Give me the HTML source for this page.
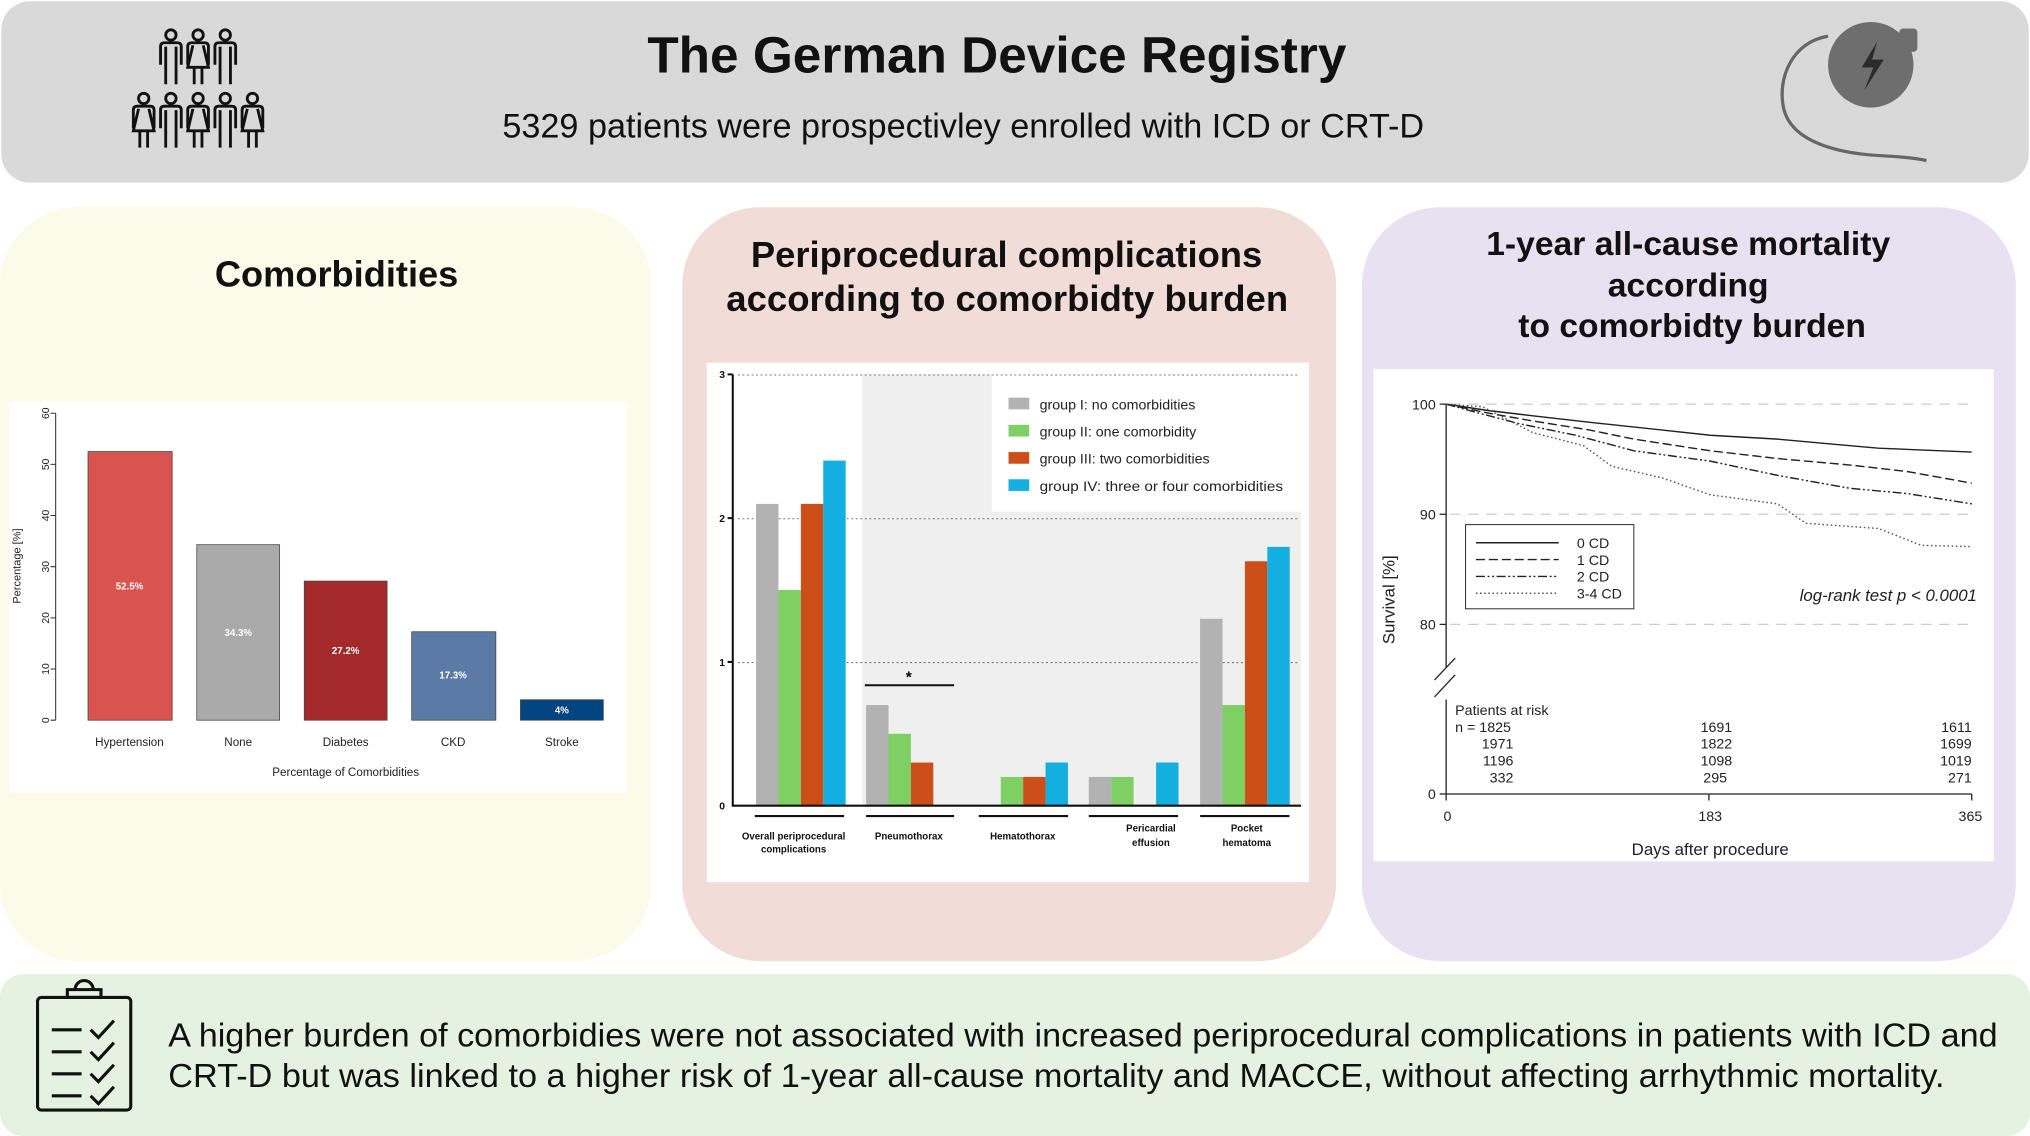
<!DOCTYPE html>
<html><head><meta charset="utf-8"><style>
html,body{margin:0;padding:0;background:#fff;}
svg{display:block;font-family:"Liberation Sans",Arial,sans-serif;}
</style></head><body>
<svg width="2030" height="1136" viewBox="0 0 1568 877" preserveAspectRatio="none" xmlns="http://www.w3.org/2000/svg">
<rect width="1568" height="877" fill="#fff"/>
<!-- header -->
<rect x="1" y="1" width="1566" height="140" rx="22" fill="#d9d9d9"/>
<text x="500" y="56" font-size="39.5" font-weight="bold" fill="#111" textLength="540" lengthAdjust="spacingAndGlyphs">The German Device Registry</text>
<text x="388" y="106" font-size="26.5" fill="#111" textLength="712" lengthAdjust="spacingAndGlyphs">5329 patients were prospectivley enrolled with ICD or CRT-D</text>
<!-- people icon -->
<g fill="none" stroke="#111" stroke-width="2.2">
<g transform="translate(132,40)"><circle cx="0" cy="-13" r="4"/><path d="M-8,10 V-4 Q-8,-7 -5,-7 H5 Q8,-7 8,-4 V10 M-4,-4 V25 M4,-4 V25"/></g>
<g transform="translate(153,40)"><circle cx="0" cy="-13" r="4"/><path d="M-8,10 V-4 Q-8,-7 -5,-7 H5 Q8,-7 8,-4 V10 M-4,-5 L-8,12 H8 L4,-5 M-3,12 V25 M3,12 V25"/></g>
<g transform="translate(174,40)"><circle cx="0" cy="-13" r="4"/><path d="M-8,10 V-4 Q-8,-7 -5,-7 H5 Q8,-7 8,-4 V10 M-4,-4 V25 M4,-4 V25"/></g>
<g transform="translate(111,89)"><circle cx="0" cy="-13" r="4"/><path d="M-8,10 V-4 Q-8,-7 -5,-7 H5 Q8,-7 8,-4 V10 M-4,-5 L-8,12 H8 L4,-5 M-3,12 V25 M3,12 V25"/></g>
<g transform="translate(132,89)"><circle cx="0" cy="-13" r="4"/><path d="M-8,10 V-4 Q-8,-7 -5,-7 H5 Q8,-7 8,-4 V10 M-4,-4 V25 M4,-4 V25"/></g>
<g transform="translate(153,89)"><circle cx="0" cy="-13" r="4"/><path d="M-8,10 V-4 Q-8,-7 -5,-7 H5 Q8,-7 8,-4 V10 M-4,-5 L-8,12 H8 L4,-5 M-3,12 V25 M3,12 V25"/></g>
<g transform="translate(174,89)"><circle cx="0" cy="-13" r="4"/><path d="M-8,10 V-4 Q-8,-7 -5,-7 H5 Q8,-7 8,-4 V10 M-4,-4 V25 M4,-4 V25"/></g>
<g transform="translate(195,89)"><circle cx="0" cy="-13" r="4"/><path d="M-8,10 V-4 Q-8,-7 -5,-7 H5 Q8,-7 8,-4 V10 M-4,-5 L-8,12 H8 L4,-5 M-3,12 V25 M3,12 V25"/></g>
</g>
<!-- device icon -->
<path d="M1412,28 C1385,32 1372,60 1378,85 C1385,110 1420,118 1450,120 C1470,121 1480,122 1488,124" fill="none" stroke="#666" stroke-width="2.5"/>
<circle cx="1445" cy="50" r="33" fill="#6e6e6e"/>
<rect x="1467" y="22" width="14" height="18" rx="3" fill="#6e6e6e"/>
<path d="M1450,32 L1438,52 L1447,52 L1440,70 L1455,46 L1446,46 Z" fill="#2b2b2b"/>
<!-- panels -->
<rect x="0" y="160" width="503" height="582" rx="60" fill="#fafbe9"/>
<rect x="527" y="160" width="505" height="582" rx="60" fill="#f2dcd7"/>
<rect x="1052" y="160" width="505" height="582" rx="60" fill="#e8e1f2"/>
<rect x="0" y="752" width="1568" height="125" rx="18" fill="#e5f2e1"/>
<text x="166" y="221" font-size="28" font-weight="bold" fill="#111" textLength="188" lengthAdjust="spacingAndGlyphs">Comorbidities</text>
<text x="580" y="206" font-size="28" font-weight="bold" fill="#111" textLength="395" lengthAdjust="spacingAndGlyphs">Periprocedural complications</text>
<text x="561" y="240" font-size="28" font-weight="bold" fill="#111" textLength="434" lengthAdjust="spacingAndGlyphs">according to comorbidty burden</text>
<text x="1304" y="197" font-size="26" font-weight="bold" text-anchor="middle" fill="#111">1-year all-cause mortality</text>
<text x="1304" y="229" font-size="26" font-weight="bold" text-anchor="middle" fill="#111">according</text>
<text x="1307" y="260" font-size="26" font-weight="bold" text-anchor="middle" fill="#111">to comorbidty burden</text>

<!-- left chart -->
<rect x="7" y="310" width="477" height="302" fill="#fff"/>
<g stroke="#333" stroke-width="0.8" fill="none">
<path d="M43,319 V556 M39,319 H43 M39,358.5 H43 M39,398 H43 M39,437.5 H43 M39,477 H43 M39,516.5 H43 M39,556 H43"/>
</g>
<g font-size="8" fill="#222" text-anchor="middle">
<text transform="translate(38,556) rotate(-90)">0</text>
<text transform="translate(38,516.5) rotate(-90)">10</text>
<text transform="translate(38,477) rotate(-90)">20</text>
<text transform="translate(38,437.5) rotate(-90)">30</text>
<text transform="translate(38,398) rotate(-90)">40</text>
<text transform="translate(38,358.5) rotate(-90)">50</text>
<text transform="translate(38,319) rotate(-90)">60</text>
<text transform="translate(16,437) rotate(-90)" font-size="8.5">Percentage [%]</text>
</g>
<g stroke="#444" stroke-width="0.6">
<rect x="68" y="348.6" width="65" height="207.4" fill="#d9534f"/>
<rect x="152" y="420.5" width="64" height="135.5" fill="#aaaaaa"/>
<rect x="235" y="448.6" width="64" height="107.4" fill="#a4292a"/>
<rect x="318" y="487.7" width="65" height="68.3" fill="#5b7aa5"/>
<rect x="402" y="540.2" width="64" height="15.8" fill="#034582"/>
</g>
<g font-size="7.5" fill="#fff" font-weight="bold" text-anchor="middle">
<text x="100" y="455">52.5%</text><text x="184" y="491">34.3%</text><text x="267" y="505">27.2%</text><text x="350" y="524">17.3%</text><text x="434" y="551">4%</text>
</g>
<g font-size="9" fill="#222" text-anchor="middle">
<text x="100" y="576">Hypertension</text><text x="184" y="576">None</text><text x="267" y="576">Diabetes</text><text x="350" y="576">CKD</text><text x="434" y="576">Stroke</text>
<text x="267" y="599">Percentage of Comorbidities</text>
</g>

<!-- middle chart -->
<rect x="546" y="280" width="465" height="401" fill="#fff"/>
<rect x="666" y="289" width="339" height="333" fill="#efefef"/>
<rect x="766" y="289" width="239" height="106" fill="#fff"/>
<g stroke="#777" stroke-width="0.8" stroke-dasharray="1.5,2">
<path d="M570,289.5 H1004 M570,400.5 H1004 M570,511.5 H1004"/>
</g>
<g font-size="8" font-weight="bold" fill="#111" text-anchor="end">
<text x="560" y="292">3</text><text x="560" y="403">2</text><text x="560" y="514">1</text><text x="560" y="625">0</text>
</g>
<g>
<rect x="584" y="389" width="17.3" height="233" fill="#b2b2b2"/>
<rect x="601.3" y="455.5" width="17.3" height="166.5" fill="#7ed064"/>
<rect x="618.6" y="389" width="17.3" height="233" fill="#cc4f19"/>
<rect x="635.9" y="355.6" width="17.3" height="266.4" fill="#12afe0"/>
<rect x="669" y="544.3" width="17.3" height="77.7" fill="#b2b2b2"/>
<rect x="686.3" y="566.5" width="17.3" height="55.5" fill="#7ed064"/>
<rect x="703.6" y="588.7" width="17.3" height="33.3" fill="#cc4f19"/>
<rect x="773" y="599.8" width="17.3" height="22.2" fill="#7ed064"/>
<rect x="790.3" y="599.8" width="17.3" height="22.2" fill="#cc4f19"/>
<rect x="807.6" y="588.7" width="17.3" height="33.3" fill="#12afe0"/>
<rect x="841" y="599.8" width="17.3" height="22.2" fill="#b2b2b2"/>
<rect x="858.3" y="599.8" width="17.3" height="22.2" fill="#7ed064"/>
<rect x="893" y="588.7" width="17.3" height="33.3" fill="#12afe0"/>
<rect x="927" y="477.7" width="17.3" height="144.3" fill="#b2b2b2"/>
<rect x="944.3" y="544.3" width="17.3" height="77.7" fill="#7ed064"/>
<rect x="961.6" y="433.3" width="17.3" height="188.7" fill="#cc4f19"/>
<rect x="978.9" y="422.2" width="17.3" height="199.8" fill="#12afe0"/>
</g>
<g stroke="#111" stroke-width="1.6" fill="none">
<path d="M566,289 V622 H1005 M562,289 H566 M562,400 H566 M562,511 H566"/>
<path d="M583,630 H652 M669,630 H737 M756,630 H825 M841,630 H910 M927,630 H996"/>
<path d="M668,529 H737"/>
</g>
<text x="702" y="527" font-size="12" font-weight="bold" text-anchor="middle">*</text>
<g font-size="7.5" font-weight="bold" fill="#111" text-anchor="middle">
<text x="613" y="648">Overall periprocedural</text><text x="613" y="658">complications</text>
<text x="702" y="648">Pneumothorax</text>
<text x="790" y="648">Hematothorax</text>
<text x="889" y="642">Pericardial</text><text x="889" y="653">effusion</text>
<text x="963" y="642">Pocket</text><text x="963" y="653">hematoma</text>
</g>
<g font-size="11" fill="#222">
<rect x="779" y="307" width="16" height="9" fill="#b2b2b2"/><text x="803" y="316">group I: no comorbidities</text>
<rect x="779" y="328" width="16" height="9" fill="#7ed064"/><text x="803" y="337">group II: one comorbidity</text>
<rect x="779" y="349" width="16" height="9" fill="#cc4f19"/><text x="803" y="358">group III: two comorbidities</text>
<rect x="779" y="370" width="16" height="9" fill="#12afe0"/><text x="803" y="379" textLength="188" lengthAdjust="spacingAndGlyphs">group IV: three or four comorbidities</text>
</g>

<!-- right chart -->
<rect x="1061" y="285" width="479" height="380" fill="#fff"/>
<g stroke="#ccc" stroke-width="1" stroke-dasharray="8,6">
<path d="M1120,312 H1525 M1120,397 H1525 M1120,482 H1525"/>
</g>
<g stroke="#222" stroke-width="1" fill="none">
<path d="M1117,312 V515 M1117,540 V613 H1523 M1112,312 H1117 M1112,397 H1117 M1112,482 H1117 M1112,613 H1117 M1117,613 V618 M1320,613 V618 M1523,613 V618"/>
<path d="M1108,525 L1124,508 M1108,538 L1124,521"/>
</g>
<g font-size="11" fill="#222" text-anchor="end">
<text x="1109" y="316">100</text><text x="1109" y="401">90</text><text x="1109" y="486">80</text><text x="1109" y="617">0</text>
</g>
<g font-size="11" fill="#222" text-anchor="middle">
<text x="1118" y="634">0</text><text x="1321" y="634">183</text><text x="1522" y="634">365</text>
<text x="1321" y="660" font-size="13">Days after procedure</text>
<text transform="translate(1077,463) rotate(-90)" font-size="13">Survival [%]</text>
</g>
<text x="1527" y="464" font-size="13" font-style="italic" text-anchor="end" fill="#222">log-rank test p &lt; 0.0001</text>
<g font-size="11" fill="#222">
<text x="1124" y="552">Patients at risk</text>
<text x="1124" y="565">n = 1825</text>
<text x="1169" y="578" text-anchor="end">1971</text><text x="1169" y="591" text-anchor="end">1196</text><text x="1169" y="604" text-anchor="end">332</text>
<text x="1338" y="565" text-anchor="end">1691</text><text x="1338" y="578" text-anchor="end">1822</text><text x="1338" y="591" text-anchor="end">1098</text><text x="1334" y="604" text-anchor="end">295</text>
<text x="1523" y="565" text-anchor="end">1611</text><text x="1523" y="578" text-anchor="end">1699</text><text x="1523" y="591" text-anchor="end">1019</text><text x="1523" y="604" text-anchor="end">271</text>
</g>
<g fill="none" stroke="#222" stroke-width="1.1">
<polyline points="1117,312 1150,317 1184,321 1228,326 1284,332 1321,336 1373,339 1417,343 1451,346 1523,349"/>
<polyline stroke-dasharray="7,3" points="1117,312 1150,319 1184,325 1228,332 1262,339 1321,348 1373,354 1429,359 1473,364 1523,373"/>
<polyline stroke-dasharray="7,2,1.5,2,1.5,2" points="1117,312 1139,318 1173,327 1217,336 1262,348 1321,356 1373,367 1429,377 1473,381 1523,389"/>
<polyline stroke-dasharray="1.2,2" stroke="#555" points="1117,312 1145,314 1184,334 1223,344 1245,360 1284,369 1321,382 1373,389 1395,404 1451,408 1484,421 1523,422"/>
</g>
<rect x="1132" y="405" width="130" height="65" fill="#fff" stroke="#333" stroke-width="0.8"/>
<g stroke="#222" stroke-width="1.1">
<line x1="1140" y1="419" x2="1204" y2="419"/>
<line x1="1140" y1="432" x2="1204" y2="432" stroke-dasharray="7,3"/>
<line x1="1140" y1="445" x2="1204" y2="445" stroke-dasharray="7,2,1.5,2,1.5,2"/>
<line x1="1140" y1="458" x2="1204" y2="458" stroke-dasharray="1.2,2" stroke="#555"/>
</g>
<g font-size="11" fill="#222">
<text x="1218" y="423">0 CD</text><text x="1218" y="436">1 CD</text><text x="1218" y="449">2 CD</text><text x="1218" y="462">3-4 CD</text>
</g>

<!-- bottom -->
<g fill="none" stroke="#111" stroke-width="2.4">
<rect x="29" y="770" width="72" height="87" rx="3"/>
<path d="M52,770 V764 H78 V770 Z M58,764 A7,7 0 0 1 72,764"/>
<path d="M40,795 H63 M40,812 H63 M40,829 H63 M40,846 H63"/>
<path d="M70,795 L76,801 L88,788 M70,812 L76,818 L88,805 M70,829 L76,835 L88,822 M70,846 L76,852 L88,839"/>
</g>
<g font-size="26" fill="#111">
<text x="130" y="808" textLength="1413" lengthAdjust="spacingAndGlyphs">A higher burden of comorbidies were not associated with increased periprocedural complications in patients with ICD and</text>
<text x="130" y="839" textLength="1372" lengthAdjust="spacingAndGlyphs">CRT-D but was linked to a higher risk of 1-year all-cause mortality and MACCE, without affecting arrhythmic mortality.</text>
</g>
</svg>
</body></html>
